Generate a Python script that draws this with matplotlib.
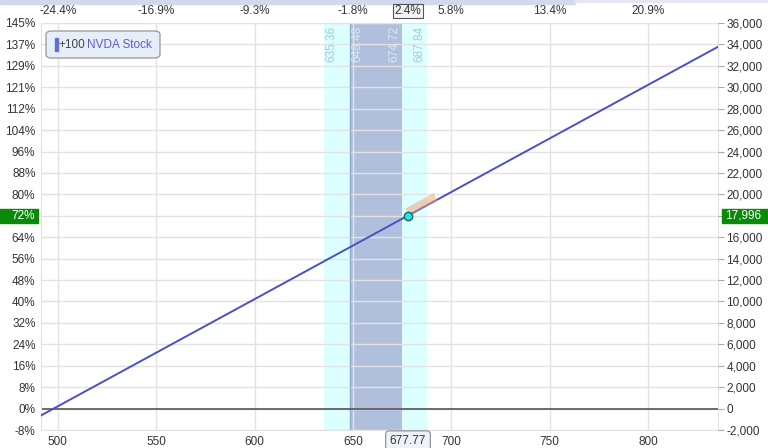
import matplotlib
matplotlib.use("Agg")
import matplotlib.pyplot as plt
from matplotlib.patches import FancyBboxPatch

plt.rcParams['font.family'] = ['Liberation Sans', 'DejaVu Sans']

# ---- data ----
line_prices = [491.4, 835.6]
line_pnl = [-641, 33779]
current_price = 677.77
current_pnl = 17996
current_pct_label = "72%"
current_pnl_label = "17,996"
move_prices = [677.77, 692.0]
move_pnl = [17996, 19419]

outer_band = [635.36, 687.84]
inner_band = [648.48, 674.72]

x_ticks = [500, 550, 600, 650, 700, 750, 800]
top_labels = ["-24.4%", "-16.9%", "-9.3%", "-1.8%", "5.8%", "13.4%", "20.9%"]
top_current_label = "2.4%"

y_ticks = list(range(-2000, 36001, 2000))
y_right_labels = ["-2,000", "0", "2,000", "4,000", "6,000", "8,000", "10,000", "12,000",
                  "14,000", "16,000", "18,000", "20,000", "22,000", "24,000", "26,000",
                  "28,000", "30,000", "32,000", "34,000", "36,000"]
y_left_labels = ["-8%", "0%", "8%", "16%", "24%", "32%", "40%", "48%", "56%", "64%",
                 "72%", "80%", "88%", "96%", "104%", "112%", "121%", "129%", "137%", "145%"]
legend_qty = "+100"
legend_name = "NVDA Stock"

FS = 8.5

# ---- figure ----
fig = plt.figure(figsize=(7.68, 4.48), dpi=100)
L, R, B, T = 41/768, 718/768, 1-430/448, 1-23/448
ax = fig.add_axes([L, B, R-L, T-B])
ax.set_xlim(491.4, 835.6)
ax.set_ylim(-2000, 36000)

# top strip
fig.patches.append(plt.Rectangle((0, 1-4/448), 575/768, 4/448, transform=fig.transFigure,
                                 color="#d4d8ec", zorder=0))
fig.patches.append(plt.Rectangle((575/768, 1-2/448), 1-575/768, 2/448, transform=fig.transFigure,
                                 color="#e4e6f0", zorder=0))

ax.axvspan(outer_band[0], outer_band[1], color="#dcffff", zorder=0, lw=0)
ax.axvspan(inner_band[0], inner_band[1], color="#b0c0dc", zorder=0.5, lw=0)
ax.axvline(inner_band[0], color="#98a8c8", lw=1, zorder=0.6)

ax.set_xticks(x_ticks)
ax.set_yticks(y_ticks)
ax.grid(True, color="#e2e2e2", lw=1, zorder=1)
ax.set_axisbelow(True)
for s in ax.spines.values():
    s.set_color("#e2e2e2")

ax.set_xticklabels([str(v) for v in x_ticks])
ax.tick_params(axis='x', length=0, pad=4, labelsize=FS, colors="#333333")
ax.set_yticklabels(y_left_labels)
ax.tick_params(axis='y', length=0, pad=4, labelsize=FS, colors="#333333")

ax2 = ax.twinx()
ax2.set_ylim(ax.get_ylim())
ax2.set_yticks(y_ticks)
ax2.set_yticklabels(y_right_labels)
ax2.tick_params(axis='y', length=4, pad=2, labelsize=FS, colors="#333333", color="#aaaaaa")
for s in ax2.spines.values():
    s.set_visible(False)

ax3 = ax.twiny()
ax3.set_xlim(ax.get_xlim())
ax3.set_xticks(x_ticks)
ax3.set_xticklabels(top_labels)
ax3.tick_params(axis='x', length=0, pad=4, labelsize=FS, colors="#333333")
for s in ax3.spines.values():
    s.set_visible(False)

# zero line
ax.axhline(0, color="#555555", lw=1.2, zorder=2)

# P&L line
ax.plot(line_prices, line_pnl, color="#4a50c8", lw=1.4, zorder=3)
ax.plot(move_prices, [p + 350 for p in move_pnl], color="#f0a070", alpha=0.5, lw=6,
        solid_capstyle='butt', zorder=3.5)
ax.plot([current_price], [current_pnl], 'o', ms=6, mfc="#20e8e8", mec="#206060", mew=1, zorder=4)

# band labels
ytop = 35700
ax.text(outer_band[0] + 0.8, ytop, f"{outer_band[0]:.2f}", rotation=90, ha='left', va='top',
        fontsize=FS, color="#a8c8dc", zorder=5)
ax.text(inner_band[0] + 0.8, ytop, f"{inner_band[0]:.2f}", rotation=90, ha='left', va='top',
        fontsize=FS, color="#dce6f2", zorder=5)
ax.text(inner_band[1] - 0.8, ytop, f"{inner_band[1]:.2f}", rotation=90, ha='right', va='top',
        fontsize=FS, color="#dce6f2", zorder=5)
ax.text(outer_band[1] - 0.8, ytop, f"{outer_band[1]:.2f}", rotation=90, ha='right', va='top',
        fontsize=FS, color="#a8c8dc", zorder=5)

# legend box
box = FancyBboxPatch((46/768, 1-58/448), 114/768, 27/448, transform=fig.transFigure,
                     boxstyle="round,pad=0,rounding_size=0.008", fc="#e8eef8", ec="#9aa0aa",
                     lw=1, zorder=5)
fig.patches.append(box)
fig.patches.append(plt.Rectangle((55/768, 1-51/448), 3/768, 13/448, transform=fig.transFigure,
                                 color="#6070d8", zorder=6))
fig.text(58/768, 1-44.5/448, legend_qty, fontsize=FS, color="#444444", va='center', ha='left',
         zorder=7)
fig.text(87/768, 1-44.5/448, legend_name, fontsize=FS, color="#5a5ae0", va='center', ha='left',
         zorder=7)

# current price boxes
fig.text(408/768, 1-441/448, "677.77", fontsize=FS, color="#333333", ha='center', va='center',
         zorder=7,
         bbox=dict(boxstyle="round,pad=0.35,rounding_size=0.3", fc="#eef2f8", ec="#888888", lw=0.8))
fig.text(408/768, 1-11/448, top_current_label, fontsize=FS, color="#333333", ha='center',
         va='center', zorder=7,
         bbox=dict(boxstyle="square,pad=0.1", fc="#f4f4f4", ec="#555555", lw=0.8))

# green value boxes
yc = ax.transData.transform((0, current_pnl))[1]
yf = fig.transFigure.inverted().transform((0, yc))[1]
fig.patches.append(plt.Rectangle((0, yf - 7/448), 38/768, 14/448, transform=fig.transFigure,
                                 color="#0a8a0a", zorder=6))
fig.text(35/768, yf, current_pct_label, fontsize=FS, color="white", ha='right', va='center', zorder=7)
fig.patches.append(plt.Rectangle((722/768, yf - 7/448), 46/768, 14/448, transform=fig.transFigure,
                                 color="#0a8a0a", zorder=6))
fig.text(725/768, yf, current_pnl_label, fontsize=FS, color="white", ha='left', va='center', zorder=7)

fig.savefig("out.png", dpi=100)
